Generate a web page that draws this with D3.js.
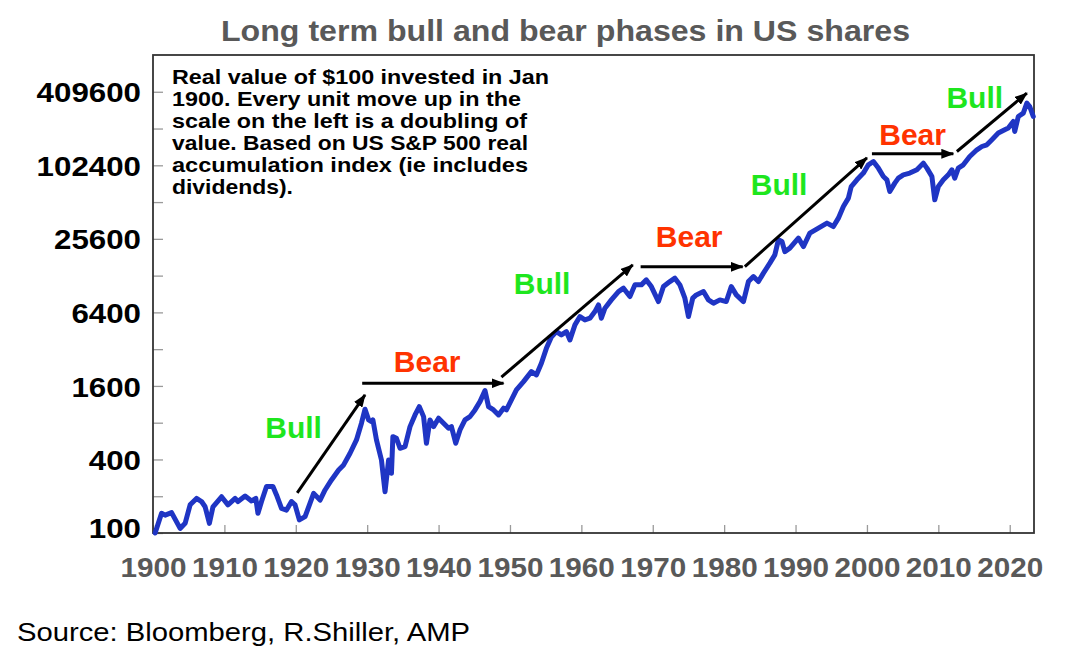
<!DOCTYPE html>
<html><head><meta charset="utf-8">
<script src="https://cdn.jsdelivr.net/npm/d3@7"></script>
<style>body{margin:0;background:#fff}svg{display:block}text{font-family:"Liberation Sans",Arial,Helvetica,sans-serif}</style>
</head><body><svg id="c" width="1077" height="662"></svg>
<script>
const years=[1900.3,1901.2,1901.7,1902.6,1903.8,1904.5,1905.2,1906.1,1906.8,1907.3,
1907.9,1908.4,1909.6,1910.5,1911.5,1911.9,1912.9,1913.8,1914.4,1914.7,
1915.2,1915.9,1916.8,1917.3,1918.0,1918.7,1919.4,1919.9,1920.5,1921.3,
1922.5,1923.4,1924.1,1925.0,1926.0,1926.7,1927.6,1928.5,1929.2,1929.7,
1930.2,1930.6,1930.8,1931.3,1932.0,1932.5,1933.0,1933.4,1933.6,1934.1,
1934.6,1935.3,1936.0,1936.7,1937.3,1937.9,1938.3,1938.8,1939.3,1940.0,
1940.7,1941.4,1941.8,1942.4,1943.0,1943.7,1944.4,1945.1,1945.8,1946.5,
1947.0,1947.7,1948.4,1949.1,1949.5,1950.2,1950.9,1951.9,1953.0,1953.7,
1954.4,1955.1,1955.8,1956.5,1957.2,1957.9,1958.4,1959.1,1959.8,1960.5,
1961.2,1961.9,1962.4,1962.8,1963.3,1964.2,1965.2,1965.9,1966.8,1967.5,
1968.4,1969.1,1969.8,1970.8,1971.5,1972.4,1973.1,1973.8,1974.5,1975.0,
1975.6,1976.1,1977.1,1977.8,1978.5,1979.4,1980.3,1981.0,1981.7,1982.7,
1983.4,1984.1,1984.8,1985.5,1986.4,1987.1,1987.6,1988.1,1988.5,1989.2,
1990.4,1991.1,1992.0,1993.2,1994.4,1995.3,1996.0,1996.7,1997.4,1997.8,
1998.6,1999.5,2000.2,2000.9,2001.6,2002.3,2002.8,2003.2,2003.9,2004.4,
2005.1,2006.0,2007.0,2007.9,2008.4,2009.1,2009.5,2010.0,2010.7,2011.4,
2011.9,2012.3,2012.8,2013.5,2014.4,2015.4,2016.1,2016.8,2017.5,2018.4,
2019.3,2019.8,2020.5,2020.7,2021.2,2021.9,2022.4,2022.8,2023.3];
const values=[100,145,140,147,109,120,170,192,181,164,
120,164,198,170,192,181,201,183,192,145,
181,240,240,205,159,154,181,170,128,136,
211,186,225,272,328,361,450,578,792,1031,
843,816,843,578,396,218,396,308,615,597,
494,509,743,926,1083,897,543,843,743,870,
792,720,743,543,698,843,897,1018,1190,1464,
1083,1018,926,1051,1018,1229,1484,1735,2095,1969,
2455,3250,4030,4456,4187,4456,3810,5057,5913,5556,
5737,6498,7373,5737,6927,8100,9475,10100,8623,10750,
10750,11810,10410,7847,10410,11440,12200,10750,8365,5913,
8365,8900,9475,8100,7610,8100,7847,10410,8900,7847,
11440,12570,11440,13410,16190,18930,25130,24330,20140,21480,
25940,22140,28510,31320,34420,32290,37820,47080,55140,68640,
77880,88410,103400,110000,97150,82900,77880,62470,73200,80450,
85580,88410,94100,106700,97150,82900,53420,68640,77880,85580,
94100,80450,97150,103400,120900,137200,146000,150800,165700,188000,
200000,206600,234000,193800,257100,274000,331100,310400,257100];

const xTicks=[1900,1910,1920,1930,1940,1950,1960,1970,1980,1990,2000,2010,2020];
const yTicks=[100,200,400,800,1600,3200,6400,12800,25600,51200,102400,204800,409600];
const yLabels=[100,400,1600,6400,25600,102400,409600];

const titleText="Long term bull and bear phases in US shares";
const sourceText="Source: Bloomberg, R.Shiller, AMP";
const noteLines=["Real value of $100 invested in Jan","1900. Every unit move up in the","scale on the left is a doubling of","value. Based on US S&P 500 real","accumulation index (ie includes","dividends)."];
const noteWidths=[377,349,355,356,356,121];

const arrowFromYear=[1920.2,1929.3,1948.8,1968.3,1982.9,2000.7,2012.6];
const arrowFromValue=[213,1683,1886,15100,15180,127200,132900];
const arrowToYear=[1929.7,1949.1,1967.2,1982.6,2000.0,2012.1,2022.4];
const arrowToValue=[1350,1683,15680,15100,118000,127200,399700];

const phaseNames=["Bull","Bear","Bull","Bear","Bull","Bear","Bull"];
const phaseYears=[1919.7,1938.4,1954.5,1975.1,1987.7,2006.4,2015.1];
const phaseValues=[600,2095,9070,22140,58700,150800,302900];

const L=153,R=1034,T=55,B=533;
const svg=d3.select("#c");
const x=d3.scaleLinear().domain([1900,2023.4]).range([L,R]);
const y=d3.scaleLog().base(2).domain([100,819200]).range([B,T]);

// title
svg.append("text").attr("x",565.5).attr("y",41).attr("text-anchor","middle")
  .attr("font-size",29).attr("font-weight","bold").attr("fill","#595959")
  .attr("textLength",689).attr("lengthAdjust","spacingAndGlyphs").text(titleText);

// y axis ticks
const gy=svg.append("g").attr("transform",`translate(${L},0)`)
  .call(d3.axisLeft(y).tickValues(yTicks).tickSize(-10).tickPadding(12)
  .tickFormat(d=>yLabels.includes(d)?String(d):""));
gy.select(".domain").remove();
gy.selectAll(".tick line").attr("stroke","#9a9a9a").attr("stroke-width",1.3);
gy.selectAll(".tick text").attr("font-size",28).attr("font-weight","bold").attr("fill","#000")
  .attr("font-family","'Liberation Sans',Arial,sans-serif")
  .attr("dy",d=>d===100?"0.15em":"0.36em")
  .each(function(d){const s=String(d); if(yLabels.includes(d)) d3.select(this).attr("textLength",s.length*17.4).attr("lengthAdjust","spacingAndGlyphs");});

// x axis
const gx=svg.append("g").attr("transform",`translate(0,${B})`)
  .call(d3.axisBottom(x).tickValues(xTicks).tickSize(-8).tickFormat(d3.format("d")));
gx.select(".domain").remove();
gx.selectAll(".tick line").attr("stroke","#9a9a9a").attr("stroke-width",1.3);
gx.selectAll(".tick text").attr("y",44).attr("dy",0).attr("font-size",28).attr("font-weight","bold")
  .attr("fill","#595959").attr("font-family","'Liberation Sans',Arial,sans-serif")
  .attr("textLength",66).attr("lengthAdjust","spacingAndGlyphs");

// frame
svg.append("rect").attr("x",L).attr("y",T).attr("width",R-L).attr("height",B-T)
  .attr("fill","none").attr("stroke","#333").attr("stroke-width",1.8);

// line
const data=years.map((yr,i)=>({year:yr,value:values[i]}));
svg.append("path").datum(data).attr("fill","none").attr("stroke","#1f35c4")
  .attr("stroke-width",5).attr("stroke-linejoin","round").attr("stroke-linecap","round")
  .attr("d",d3.line().x(d=>x(d.year)).y(d=>y(d.value)));

// note text
const note=svg.append("g");
noteLines.forEach((t,i)=>{
  note.append("text").attr("x",172).attr("y",84+i*22).attr("font-size",21).attr("font-weight","bold")
   .attr("fill","#000").attr("textLength",noteWidths[i]).attr("lengthAdjust","spacingAndGlyphs").text(t);
});

// arrows
svg.append("defs").append("marker").attr("id","ah").attr("viewBox","0 0 13 10")
  .attr("refX",12).attr("refY",5).attr("markerWidth",13).attr("markerHeight",10)
  .attr("markerUnits","userSpaceOnUse").attr("orient","auto")
  .append("path").attr("d","M0,0L13,5L0,10z").attr("fill","#000");
arrowFromYear.forEach((a,i)=>{
  svg.append("line").attr("x1",x(a)).attr("y1",y(arrowFromValue[i]))
    .attr("x2",x(arrowToYear[i])).attr("y2",y(arrowToValue[i]))
    .attr("stroke","#000").attr("stroke-width",3).attr("marker-end","url(#ah)");
});

// phase labels
phaseNames.forEach((n,i)=>{
  svg.append("text").attr("x",x(phaseYears[i])).attr("y",y(phaseValues[i]))
    .attr("text-anchor","middle").attr("font-size",30).attr("font-weight","bold")
    .attr("fill",n==="Bull"?"#1ee61e":"#ff3300").text(n);
});

// source
svg.append("text").attr("x",17).attr("y",641).attr("font-size",25).attr("fill","#000")
  .attr("textLength",453).attr("lengthAdjust","spacingAndGlyphs").text(sourceText);
</script></body></html>
